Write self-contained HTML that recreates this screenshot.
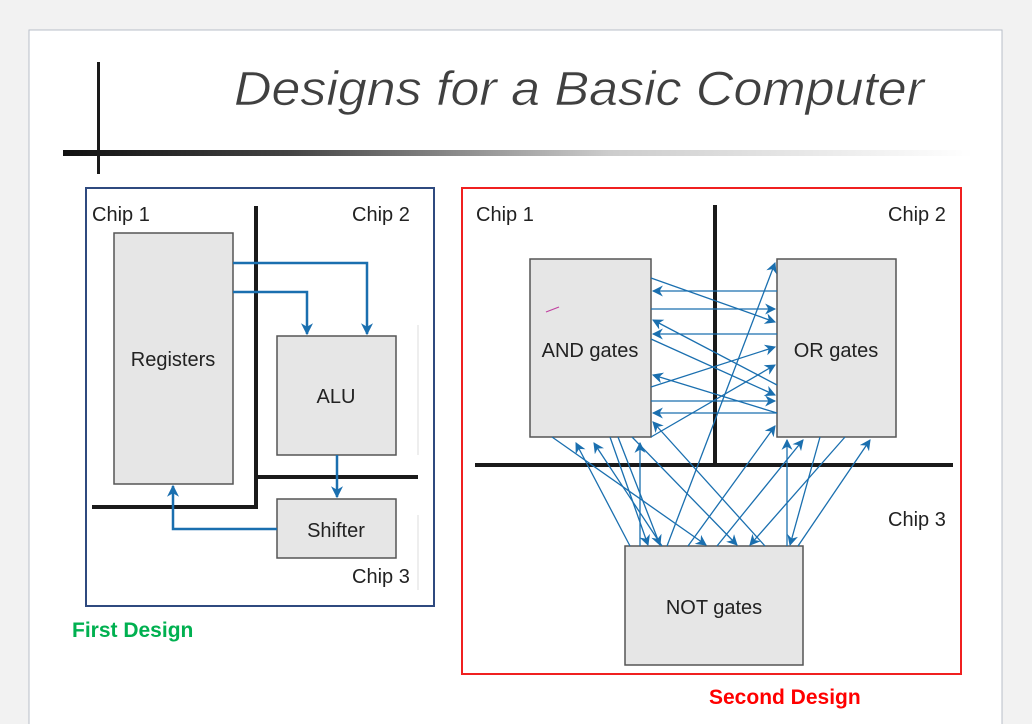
<!DOCTYPE html>
<html><head><meta charset="utf-8"><style>
html,body{margin:0;padding:0;background:#f2f2f2;}
svg{display:block;font-family:"Liberation Sans",sans-serif;}
</style></head><body>
<svg width="1032" height="724" viewBox="0 0 1032 724" xmlns="http://www.w3.org/2000/svg">
<defs>
<linearGradient id="g" x1="0" x2="1"><stop offset="0" stop-color="#111"/><stop offset="0.25" stop-color="#444"/><stop offset="0.6" stop-color="#ccc"/><stop offset="1" stop-color="#fff"/></linearGradient>
<marker id="a" viewBox="0 0 10 10" refX="9" refY="5" markerWidth="12" markerHeight="11" orient="auto" markerUnits="userSpaceOnUse"><path d="M0,0 L10,5 L0,10 L3,5 z" fill="#1a6faf"/></marker>
<marker id="b" viewBox="0 0 10 10" refX="9" refY="5" markerWidth="14" markerHeight="12" orient="auto" markerUnits="userSpaceOnUse"><path d="M0,0 L10,5 L0,10 L3,5 z" fill="#1a6faf"/></marker>
</defs>
<rect x="29" y="30" width="973" height="700" fill="#fff" stroke="#b8bfc8"/>
<rect x="63" y="150" width="910" height="6" fill="url(#g)"/>
<rect x="97" y="62" width="3" height="112" fill="#1a1a1a"/>
<text x="234" y="105" font-size="48" font-style="italic" fill="#404040" textLength="690" lengthAdjust="spacingAndGlyphs" transform="translate(234 0) scale(1 1) translate(-234 0)" style="font-stretch:condensed" stroke="#fff" stroke-width="0.6">Designs for a Basic Computer</text>

<!-- First design -->
<rect x="86" y="188" width="348" height="418" fill="#fff" stroke="#2f4a7f" stroke-width="2"/>
<g font-size="20" fill="#222">
<text x="92" y="221">Chip 1</text><text x="352" y="221">Chip 2</text><text x="352" y="583">Chip 3</text>
</g>
<line x1="418" y1="325" x2="418" y2="455" stroke="#eee" stroke-width="2"/>
<line x1="418" y1="515" x2="418" y2="590" stroke="#eee" stroke-width="2"/>
<rect x="114" y="233" width="119" height="251" fill="#e6e6e6" stroke="#555" stroke-width="1.5"/>
<rect x="277" y="336" width="119" height="119" fill="#e6e6e6" stroke="#555" stroke-width="1.5"/>
<rect x="277" y="499" width="119" height="59" fill="#e6e6e6" stroke="#555" stroke-width="1.5"/>
<g font-size="20" fill="#222" text-anchor="middle">
<text x="173" y="366">Registers</text><text x="336" y="403">ALU</text><text x="336" y="537">Shifter</text>
</g>
<path d="M256,206 V507 H92" fill="none" stroke="#1a1a1a" stroke-width="4"/>
<line x1="257" y1="477" x2="418" y2="477" stroke="#1a1a1a" stroke-width="4"/>
<g fill="none" stroke="#1a6faf" stroke-width="2.5" marker-end="url(#b)">
<path d="M233,263 H367 V334"/>
<path d="M233,292 H307 V334"/>
<path d="M337,455 V497"/>
<path d="M277,529 H173 V486"/>
</g>
<text x="72" y="637" font-size="21" font-weight="bold" fill="#00b050">First Design</text>

<!-- Second design -->
<rect x="462" y="188" width="499" height="486" fill="#fff" stroke="#f02020" stroke-width="2"/>
<g font-size="20" fill="#222">
<text x="476" y="221">Chip 1</text><text x="888" y="221">Chip 2</text><text x="888" y="526">Chip 3</text>
</g>
<rect x="530" y="259" width="121" height="178" fill="#e6e6e6" stroke="#555" stroke-width="1.5"/>
<rect x="777" y="259" width="119" height="178" fill="#e6e6e6" stroke="#555" stroke-width="1.5"/>
<rect x="625" y="546" width="178" height="119" fill="#e6e6e6" stroke="#555" stroke-width="1.5"/>
<g font-size="20" fill="#222" text-anchor="middle">
<text x="590" y="357">AND gates</text><text x="836" y="357">OR gates</text><text x="714" y="614">NOT gates</text>
</g>
<line x1="546" y1="312" x2="559" y2="307" stroke="#c040a0" stroke-width="1.2"/>
<line x1="715" y1="205" x2="715" y2="465" stroke="#1a1a1a" stroke-width="4"/>
<line x1="475" y1="465" x2="953" y2="465" stroke="#1a1a1a" stroke-width="4"/>
<g fill="none" stroke="#1a6faf" stroke-width="1.3" marker-end="url(#a)">
<line x1="651" y1="278" x2="775" y2="322"/>
<line x1="777" y1="291" x2="653" y2="291"/>
<line x1="651" y1="309" x2="775" y2="309"/>
<line x1="777" y1="385" x2="653" y2="320"/>
<line x1="777" y1="334" x2="653" y2="334"/>
<line x1="651" y1="339" x2="775" y2="395"/>
<line x1="651" y1="387" x2="775" y2="347"/>
<line x1="777" y1="413" x2="653" y2="375"/>
<line x1="651" y1="401" x2="775" y2="401"/>
<line x1="777" y1="413" x2="653" y2="413"/>
<line x1="651" y1="437" x2="775" y2="365"/>
<line x1="667" y1="546" x2="775" y2="263"/>
<line x1="765" y1="546" x2="653" y2="422"/>
<line x1="552" y1="437" x2="706" y2="545"/>
<line x1="630" y1="546" x2="576" y2="443"/>
<line x1="662" y1="546" x2="594" y2="443"/>
<line x1="610" y1="437" x2="648" y2="545"/>
<line x1="640" y1="546" x2="640" y2="443"/>
<line x1="632" y1="437" x2="737" y2="545"/>
<line x1="688" y1="546" x2="775" y2="426"/>
<line x1="787" y1="546" x2="787" y2="440"/>
<line x1="717" y1="546" x2="803" y2="440"/>
<line x1="820" y1="437" x2="790" y2="545"/>
<line x1="845" y1="437" x2="750" y2="545"/>
<line x1="798" y1="546" x2="870" y2="440"/>
<line x1="618" y1="437" x2="660" y2="545"/>
</g>
<text x="709" y="704" font-size="21" font-weight="bold" fill="#ff0000">Second Design</text>
</svg>
</body></html>
